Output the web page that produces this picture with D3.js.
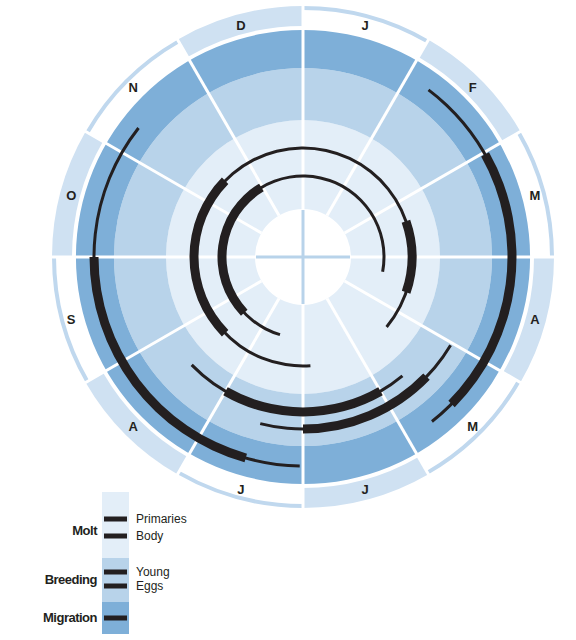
<!DOCTYPE html>
<html>
<head>
<meta charset="utf-8">
<script src="https://cdn.jsdelivr.net/npm/d3@7"></script>
<style>
  body { margin: 0; background: #fff; }
  text { font-family: "Liberation Sans", Arial, sans-serif; fill: #231f20; }
</style>
</head>
<body>
<svg id="chart" width="576" height="640"></svg>
<script>
// months clockwise from the top
var months = ["J","F","M","A","M","J","J","A","S","O","N","D"];
// label ring filled (1) or open (0)
var labelFilled = [0,1,0,1,0,1,0,1,0,1,0,1];

// spans in month units (0 = 1 Jan, 12 = end of Dec), values > 12 wrap
var migrationThin  = [[1.23,4.73],[6.03,10.27]];
var migrationThick = [[2.02,4.49],[6.53,9.0]];
var eggsThin  = [[4.03,6.48]];
var eggsThick = [[4.47,6.0]];
var youngThin  = [[4.67,7.53]];
var youngThick = [[5.0,7.0]];
var bodyThin  = [[5.87,16.33]];
var bodyThick = [[7.52,10.48],[14.36,15.63]];
var primThin  = [[6.55,15.35]];
var primThick = [[7.55,10.97]];

var series = [
  {name: "Migration", r: 209, thin: migrationThin, thick: migrationThick},
  {name: "Eggs", r: 172, thin: eggsThin, thick: eggsThick},
  {name: "Young", r: 155, thin: youngThin, thick: youngThick},
  {name: "Body", r: 109, thin: bodyThin, thick: bodyThick},
  {name: "Primaries", r: 81, thin: primThin, thick: primThick}
];

var cx = 303, cy = 257;
var svg = d3.select("#chart");
var g = svg.append("g").attr("transform", "translate(" + cx + "," + cy + ")");

var angle = d3.scaleLinear().domain([0, 12]).range([0, 2 * Math.PI]);
var arc = d3.arc();

// background bands
var bands = [
  {r0: 48, r1: 137, color: "#e3eef8"},
  {r0: 137, r1: 189, color: "#b8d3ea"},
  {r0: 189, r1: 227, color: "#7eafd8"}
];
g.selectAll("path.band")
  .data(bands)
  .join("path")
  .attr("class", "band")
  .attr("fill", function(d) { return d.color; })
  .attr("d", function(d) {
    return arc({innerRadius: d.r0, outerRadius: d.r1, startAngle: 0, endAngle: 2 * Math.PI});
  });

// label ring
g.selectAll("path.lab")
  .data(months)
  .join("path")
  .attr("class", "lab")
  .attr("fill", function(d, i) { return labelFilled[i] ? "#cfe1f2" : "#c0d8ee"; })
  .attr("d", function(d, i) {
    return arc({innerRadius: labelFilled[i] ? 231 : 247, outerRadius: 251,
      startAngle: angle(i), endAngle: angle(i + 1)});
  });

// month dividers
g.selectAll("line.div")
  .data(months)
  .join("line")
  .attr("class", "div")
  .attr("x1", function(d, i) { return 48 * Math.sin(angle(i)); })
  .attr("y1", function(d, i) { return -48 * Math.cos(angle(i)); })
  .attr("x2", function(d, i) { return 254 * Math.sin(angle(i)); })
  .attr("y2", function(d, i) { return -254 * Math.cos(angle(i)); })
  .attr("stroke", "#fff")
  .attr("stroke-width", 3);

// centre cross
g.append("line").attr("x1", -47).attr("x2", 47).attr("y1", 0).attr("y2", 0)
  .attr("stroke", "#b8d3ea").attr("stroke-width", 3);
g.append("line").attr("y1", -47).attr("y2", 47).attr("x1", 0).attr("x2", 0)
  .attr("stroke", "#b8d3ea").attr("stroke-width", 3);

// month labels
g.selectAll("text.month")
  .data(months)
  .join("text")
  .attr("class", "month")
  .attr("x", function(d, i) { return 240 * Math.sin(angle(i + 0.5)); })
  .attr("y", function(d, i) { return -240 * Math.cos(angle(i + 0.5)); })
  .attr("dy", "0.36em")
  .attr("text-anchor", "middle")
  .attr("font-size", 13)
  .attr("font-weight", "bold")
  .text(function(d) { return d; });

// activity arcs
function spanPath(r, w) {
  return function(s) {
    return arc({innerRadius: r - w / 2, outerRadius: r + w / 2,
      startAngle: angle(s[0]), endAngle: angle(s[1])});
  };
}
series.forEach(function(s) {
  g.append("g").selectAll("path")
    .data(s.thin).join("path")
    .attr("fill", "#231f20")
    .attr("d", spanPath(s.r, 3));
  g.append("g").selectAll("path")
    .data(s.thick).join("path")
    .attr("fill", "#231f20")
    .attr("d", spanPath(s.r, 9));
});

// legend
var legend = svg.append("g");
var legendBands = [
  {y0: 492, y1: 558, color: "#e3eef8"},
  {y0: 558, y1: 602, color: "#b8d3ea"},
  {y0: 602, y1: 634, color: "#7eafd8"}
];
legend.selectAll("rect")
  .data(legendBands).join("rect")
  .attr("x", 102).attr("width", 27)
  .attr("y", function(d) { return d.y0; })
  .attr("height", function(d) { return d.y1 - d.y0; })
  .attr("fill", function(d) { return d.color; });

var legendItems = [
  {label: "Primaries", y: 519},
  {label: "Body", y: 536},
  {label: "Young", y: 572},
  {label: "Eggs", y: 586},
  {label: null, y: 618}
];
legend.selectAll("rect.bar")
  .data(legendItems).join("rect")
  .attr("class", "bar")
  .attr("x", 104).attr("width", 23)
  .attr("y", function(d) { return d.y - 2.5; })
  .attr("height", 5)
  .attr("fill", "#231f20");
legend.selectAll("text.item")
  .data(legendItems.filter(function(d) { return d.label; })).join("text")
  .attr("class", "item")
  .attr("x", 136)
  .attr("y", function(d) { return d.y; })
  .attr("dy", "0.35em")
  .attr("font-size", 12)
  .text(function(d) { return d.label; });

var groups = [
  {label: "Molt", y: 530},
  {label: "Breeding", y: 579},
  {label: "Migration", y: 617}
];
legend.selectAll("text.group")
  .data(groups).join("text")
  .attr("class", "group")
  .attr("x", 97)
  .attr("y", function(d) { return d.y; })
  .attr("dy", "0.35em")
  .attr("text-anchor", "end")
  .attr("font-size", 13)
  .attr("font-weight", "bold")
  .attr("letter-spacing", -0.5)
  .text(function(d) { return d.label; });
</script>
</body>
</html>
